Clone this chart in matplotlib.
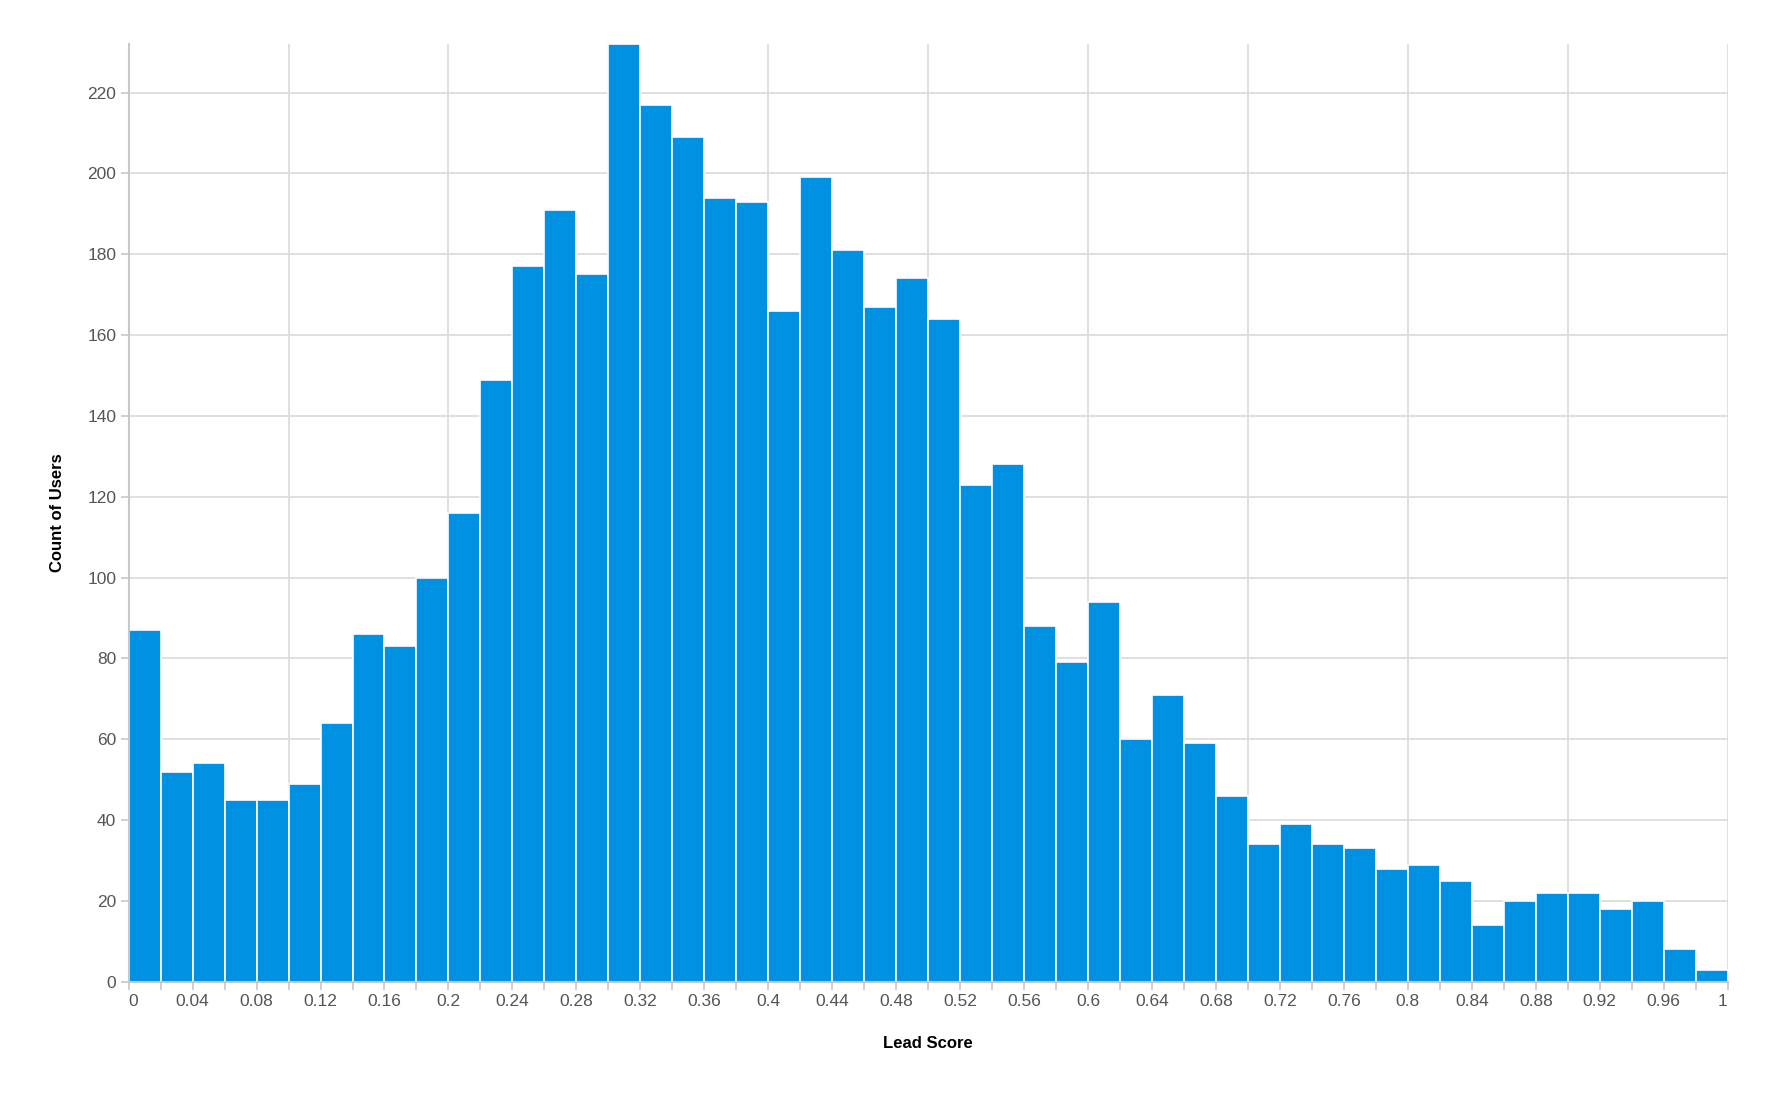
import numpy as np
import matplotlib
matplotlib.use("Agg")
import matplotlib.pyplot as plt

plt.rcParams['font.family'] = ['Liberation Sans', 'DejaVu Sans']

# histogram of lead scores, 50 bins of width 0.02
bin_width = 0.02
bin_starts = np.round(np.arange(0, 1, bin_width), 2)
counts = [87, 52, 54, 45, 45, 49, 64, 86, 83, 100,
          116, 149, 177, 191, 175, 232, 217, 209, 194, 193,
          166, 199, 181, 167, 174, 164, 123, 128, 88, 79,
          94, 60, 71, 59, 46, 34, 39, 34, 33, 28,
          29, 25, 14, 20, 22, 22, 18, 20, 8, 3]

x_label_ticks = np.round(np.arange(0, 1.0001, 0.04), 2)
x_grid = np.round(np.arange(0.1, 1.0001, 0.1), 1)
y_ticks = list(range(0, 221, 20))

fig = plt.figure(figsize=(17.72, 10.93), dpi=100)
ax = fig.add_axes([0.0726, 0.1018, 0.9024, 0.8579])

grid_col = '#dddddd'
for g in x_grid:
    ax.axvline(g, color=grid_col, lw=1.3, zorder=0)
for g in y_ticks[1:]:
    ax.axhline(g, color=grid_col, lw=1.3, zorder=0)

ax.bar(bin_starts, counts, width=bin_width, align='edge',
       color='#0091e3', edgecolor='white', linewidth=1.2, zorder=2)

ax.set_xlim(0, 1)
ax.set_ylim(0, 232)

for s in ['top', 'right']:
    ax.spines[s].set_visible(False)
for s in ['left', 'bottom']:
    ax.spines[s].set_color('#c8c8c8')
    ax.spines[s].set_linewidth(1.5)

ax.set_xticks(np.round(np.arange(0, 1.0001, 0.02), 2))
labels = []
for t in np.round(np.arange(0, 1.0001, 0.02), 2):
    if np.any(np.isclose(t, x_label_ticks)):
        labels.append(('%g' % t))
    else:
        labels.append('')
ax.set_xticklabels(labels)
ax.set_yticks(y_ticks)
ax.set_yticklabels([str(v) for v in y_ticks])

ax.tick_params(axis='both', colors='#c8c8c8', labelcolor='#555555',
               labelsize=12.5, length=6, width=1.2)
ax.tick_params(axis='x', pad=3)
ax.tick_params(axis='y', pad=3)

xt = ax.get_xticklabels()
xt[0].set_horizontalalignment('left')
xt[-1].set_horizontalalignment('right')

ax.set_xlabel('Lead Score', fontsize=12, fontweight='bold')
ax.set_ylabel('Count of Users', fontsize=12, fontweight='bold')
ax.xaxis.set_label_coords(0.5, -0.058)
ax.yaxis.set_label_coords(-0.040, 0.5)

fig.savefig('out.png', dpi=100, facecolor='white')
